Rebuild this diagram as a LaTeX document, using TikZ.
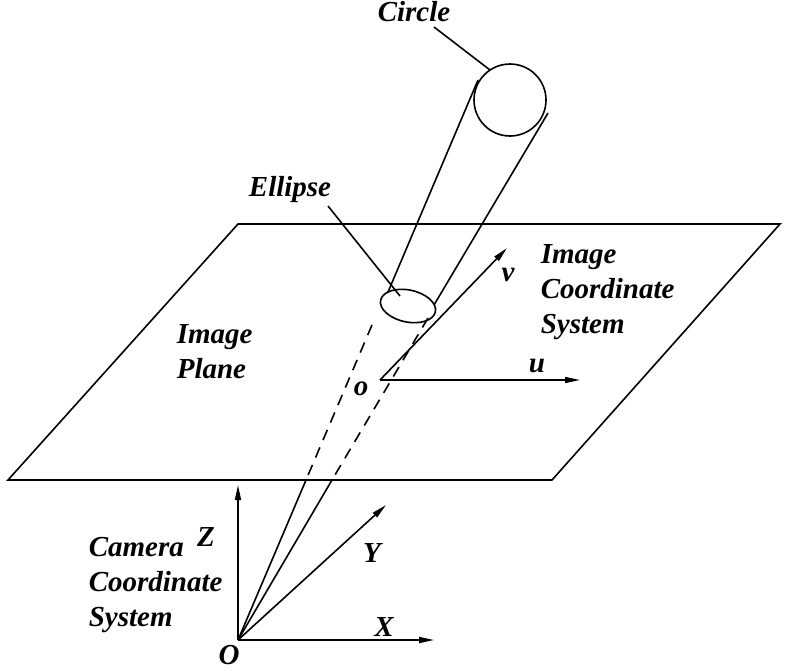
\documentclass[tikz,border=0pt]{standalone}
\usepackage{fontspec}
\setmainfont{Liberation Serif}
\usetikzlibrary{arrows.meta,shapes.geometric}
\begin{document}
\begin{tikzpicture}[x=1pt,y=-1pt,line width=1.6pt,
  lbl/.style={font=\bfseries\itshape\fontsize{29}{35}\selectfont,inner sep=0pt,align=left},
  ax/.style={-{Triangle[length=15pt,width=6pt]}}]
\useasboundingbox (0,0) rectangle (785,670);
\draw (238,224) -- (780,224) -- (552,480) -- (8,480) -- cycle;
\node[draw,circle,minimum size=72pt,inner sep=0pt] (c) at (510,100) {};
\node[draw,ellipse,rotate=-12,minimum width=56pt,minimum height=32pt,inner sep=0pt] (e) at (408,306) {};
\draw (388,292) -- (478,80);
\draw (434,305) -- (548,113);
\coordinate (O) at (238,640);
\coordinate (o) at (380,380);
\draw[dashed,dash pattern=on 11pt off 8pt] (372,325) -- (306,480);
\draw (306,480) -- (O);
\draw[dashed,dash pattern=on 11pt off 8pt] (428,318) -- (332,480);
\draw (332,480) -- (O);
\coordinate (Z) at (238,485); \coordinate (X) at (434,640); \coordinate (Y) at (386,505);
\draw[ax] (O) -- (Z);
\draw[ax] (O) -- (X);
\draw[ax] (O) -- (Y);
\coordinate (u) at (580,380); \coordinate (v) at (507,248);
\draw[ax] (o) -- (u);
\draw[ax] (o) -- (v);
\node[lbl] (lc) at (414,12) {Circle};
\draw (434,27) -- (490,70);
\node[lbl] (le) at (290,190) {Ellipse};
\draw (328,206) -- (400,296);
\node[lbl,anchor=west] (ip) at (176,352) {Image\\Plane};
\node[lbl,anchor=west] (ics) at (540,292) {Image\\Coordinate\\System};
\node[lbl] at (508,275) {v};
\node[lbl] at (537,366) {u};
\node[lbl] at (361,389) {o};
\node[lbl] at (206,537) {Z};
\node[lbl] at (372,553) {Y};
\node[lbl] at (384,627) {X};
\node[lbl] at (229,655) {O};
\node[lbl,anchor=west] (ccs) at (88,585) {Camera\\Coordinate\\System};
\end{tikzpicture}
\end{document}
